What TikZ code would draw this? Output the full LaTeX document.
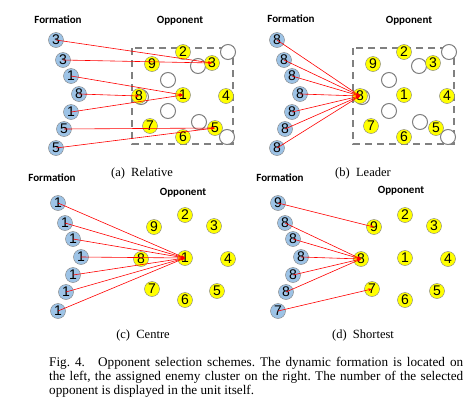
\documentclass[tikz,border=0pt]{standalone}
\usepackage{fontspec}
\setmainfont{Liberation Serif}
\newfontfamily\titlefont{Carlito}
\newfontfamily\digitfont{Liberation Sans}
\usetikzlibrary{arrows.meta}

\definecolor{unitblue}{RGB}{157,195,230}
\definecolor{unityellow}{RGB}{255,255,0}
\definecolor{rimgray}{RGB}{128,128,128}

\tikzset{
  fmn/.style={circle, draw=rimgray, fill=unitblue, minimum size=15pt, inner sep=0pt,
    font=\digitfont\fontsize{14}{14}\selectfont},
  opp/.style={circle, draw=rimgray, fill=unityellow, minimum size=15pt, inner sep=0pt,
    font=\digitfont\fontsize{14}{14}\selectfont},
  free/.style={circle, draw=rimgray, line width=1pt, fill=white, minimum size=15pt, inner sep=0pt},
  fieldbox/.style={draw=rimgray, line width=1.4pt, dash pattern=on 7pt off 5pt},
  pick/.style={draw=red, line width=0.6pt, -{Stealth[length=4pt, width=3pt]}},
  head/.style={font=\titlefont\bfseries\fontsize{11}{13}\selectfont},
  sub/.style={font=\fontsize{12.5}{14}\selectfont}
}

\begin{document}
\begin{tikzpicture}[x=1pt, y=-1pt]
  \useasboundingbox (0,0) rectangle (467,413);

  % (a) relative
  \node[head] (a-form) at (58,20) {Formation};
  \node[head] (a-opp) at (180,21) {Opponent};
  \draw[fieldbox] (132,48) rectangle (233,144);
  \foreach \k/\wx/\wy in {1/228/52, 2/198/66, 3/168/80, 4/168/111, 5/199/122, 6/227/137, 7/141/97}
    \node[free] (a-w\k) at (\wx,\wy) {};
  \foreach \n/\ex/\ey in {1/183/95, 2/183/52, 3/212/63, 4/226/96, 5/215/128, 6/183/137, 7/150/126, 8/139/96, 9/152/64}
    \node[opp] (a-e\n) at (\ex,\ey) {\n};
  \foreach \k/\fx/\fy/\t in {1/56/40/3, 2/63/60/3, 3/71/76/1, 4/79/94/8, 5/71/112/1, 6/64/129/5, 7/56/148/5}
    \node[fmn] (a-f\k) at (\fx,\fy) {\t};
  \foreach \k/\t in {1/3, 2/3, 3/1, 4/8, 5/1, 6/5, 7/5}
    \draw[pick] (a-f\k.center) -- (a-e\t.center);
  \node[sub] (a-cap) at (142,173) {(a)~~Relative};

  % (b) leader
  \node[head] (b-form) at (291,19) {Formation};
  \node[head] (b-opp) at (409,21) {Opponent};
  \begin{scope}[shift={(221,0)}]
    \draw[fieldbox] (132,48) rectangle (233,144);
    \foreach \k/\wx/\wy in {1/228/52, 2/198/66, 3/168/80, 4/168/111, 5/199/122, 6/227/137, 7/141/97}
      \node[free] (b-w\k) at (\wx,\wy) {};
    \foreach \n/\ex/\ey in {1/183/95, 2/183/52, 3/212/63, 4/226/96, 5/215/128, 6/183/137, 7/150/126, 8/139/96, 9/152/64}
      \node[opp] (b-e\n) at (\ex,\ey) {\n};
    \foreach \k/\fx/\fy/\t in {1/56/40/8, 2/63/60/8, 3/71/76/8, 4/79/94/8, 5/71/112/8, 6/64/129/8, 7/56/148/8}
      \node[fmn] (b-f\k) at (\fx,\fy) {\t};
  \end{scope}
  \foreach \k in {1,...,7}
    \draw[pick] (b-f\k.center) -- (b-e8.center);
  \node[sub] (b-cap) at (363,173) {(b)~~Leader};

  % (c) centre
  \node[head] (c-form) at (52,178) {Formation};
  \node[head] (c-opp) at (183,193) {Opponent};
  \begin{scope}[shift={(2,163)}]
    \foreach \n/\ex/\ey in {1/183/95, 2/183/52, 3/212/63, 4/226/96, 5/215/128, 6/183/137, 7/150/126, 8/139/96, 9/152/64}
      \node[opp] (c-e\n) at (\ex,\ey) {\n};
    \foreach \k/\fx/\fy/\t in {1/56/40/1, 2/63/60/1, 3/71/76/1, 4/79/94/1, 5/71/112/1, 6/64/129/1, 7/56/148/1}
      \node[fmn] (c-f\k) at (\fx,\fy) {\t};
  \end{scope}
  \foreach \k in {1,...,7}
    \draw[pick] (c-f\k.center) -- (c-e1.center);
  \node[sub] (c-cap) at (143,335) {(c)~~Centre};

  % (d) shortest
  \node[head] (d-form) at (280,178) {Formation};
  \node[head] (d-opp) at (401,191) {Opponent};
  \begin{scope}[shift={(222,163)}]
    \foreach \n/\ex/\ey in {1/183/95, 2/183/52, 3/212/63, 4/226/96, 5/215/128, 6/183/137, 7/150/126, 8/139/96, 9/152/64}
      \node[opp] (d-e\n) at (\ex,\ey) {\n};
    \foreach \k/\fx/\fy/\t in {1/56/40/9, 2/63/60/8, 3/71/76/8, 4/79/94/8, 5/71/112/8, 6/64/129/8, 7/56/148/7}
      \node[fmn] (d-f\k) at (\fx,\fy) {\t};
  \end{scope}
  \foreach \k/\t in {1/9, 2/8, 3/8, 4/8, 5/8, 6/8, 7/7}
    \draw[pick] (d-f\k.center) -- (d-e\t.center);
  \node[sub] (d-cap) at (363,335) {(d)~~Shortest};

  % caption
  \node[anchor=north west, text width=414pt, align=justify, inner sep=0pt,
    font=\fontsize{13.2}{14}\selectfont\frenchspacing] (fig-cap) at (49,357)
    {Fig.~4.\hspace{1em}Opponent selection schemes. The dynamic formation is located on\linebreak
     the left, the assigned enemy cluster on the right. The number of the selected\linebreak
     opponent is displayed in the unit itself.};
\end{tikzpicture}
\end{document}
